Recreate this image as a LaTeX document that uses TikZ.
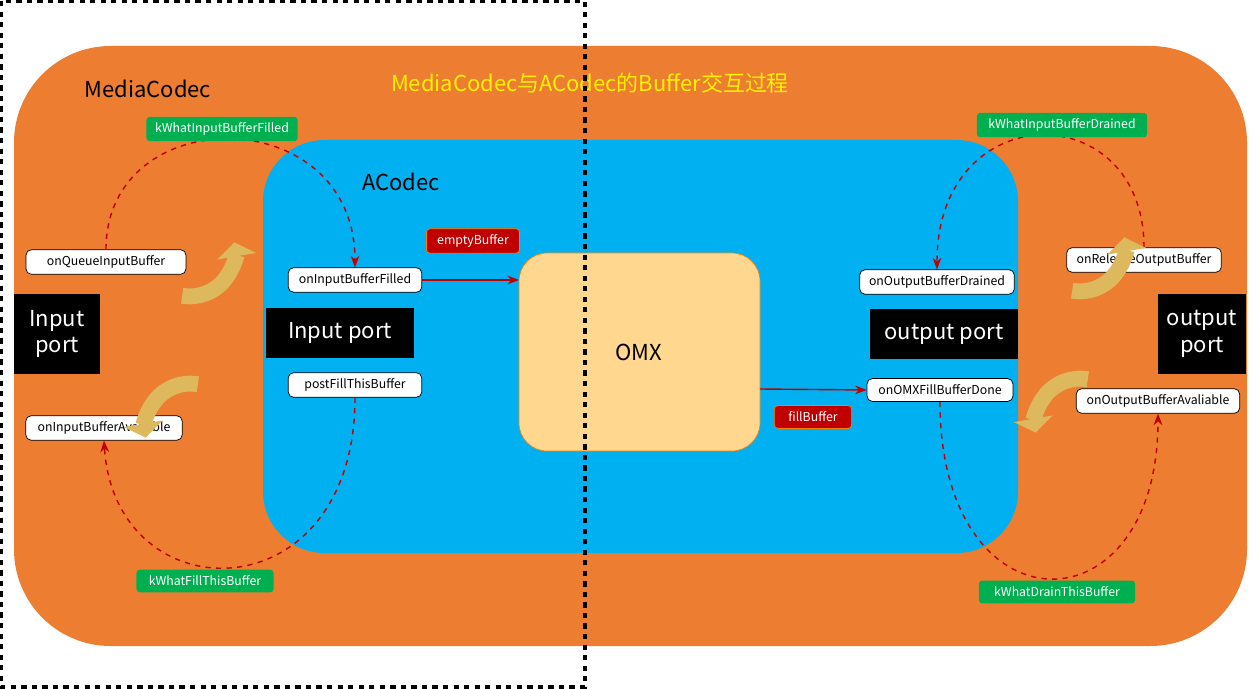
\documentclass[tikz,border=0pt]{standalone}
\usepackage{fontspec}
\setmainfont{Noto Sans CJK SC}
\usepackage{xcolor}
\usetikzlibrary{arrows.meta}
\definecolor{codecorange}{HTML}{ED7D31}
\definecolor{codecblue}{HTML}{00B0F0}
\definecolor{omxfill}{HTML}{FFD78F}
\definecolor{msggreen}{HTML}{00B050}
\definecolor{callred}{HTML}{C00000}
\definecolor{loopgold}{HTML}{DDB85C}
\tikzset{callbox/.style={draw=black,fill=white,rounded corners=3pt,minimum height=13pt,inner xsep=5pt,font=\fontsize{7}{8}\selectfont}}
\tikzset{msgbox/.style={fill=msggreen,text=white,rounded corners=2pt,minimum height=13pt,inner xsep=5pt,font=\fontsize{7}{8}\selectfont}}
\tikzset{omxbox/.style={fill=callred,draw=orange,text=white,rounded corners=2pt,minimum height=13pt,inner xsep=5pt,font=\fontsize{7}{8}\selectfont}}
\tikzset{portbox/.style={fill=black,text=white,align=center,font=\fontsize{12.5}{15}\selectfont}}
\tikzset{flow/.style={dashed,thick,callred,-{Stealth}}}
\tikzset{loop/.style={line width=9pt,loopgold,-{Triangle[length=8pt,width=22pt]}}}

\begin{document}
\begin{tikzpicture}[x=0.02cm,y=-0.02cm]
            \useasboundingbox (0,0) rectangle (1259,689);
            % the containers
            \fill[codecorange,rounded corners=55pt] (14,46) rectangle (1247,646);
            \fill[codecblue,rounded corners=35pt] (263,140) rectangle (1018,553);
            \draw[orange,fill=omxfill,rounded corners=16pt] (519,253) rectangle (760,451);
            \node[font=\fontsize{12.5}{15}\selectfont] (omx) at (639,352) {OMX};
            \node[font=\fontsize{12.5}{15}\selectfont] (mc) at (148,89) {MediaCodec};
            \node[font=\fontsize{12.5}{15}\selectfont] (ac) at (401,182) {ACodec};
            \node[yellow,font=\fontsize{12.5}{15}\selectfont] (title) at (590,83) {MediaCodec与ACodec的Buffer交互过程};

            % ports
            \node[portbox,minimum width=49pt,minimum height=46pt] (inport) at (57,334) {Input\\port};
            \node[portbox,minimum width=84pt,minimum height=29pt] (acin) at (340,333) {Input port};
            \node[portbox,minimum width=84pt,minimum height=29pt] (acout) at (944,334) {output port};
            \node[portbox,minimum width=50pt,minimum height=46pt] (outport) at (1202,334) {output\\port};

            % callbacks
            \node[callbox,minimum width=91pt] (queuein) at (106,262) {onQueueInputBuffer};
            \node[callbox,minimum width=89pt] (inavail) at (104,428) {onInputBufferAvaliable};
            \node[callbox,minimum width=76pt] (infilled) at (355,280) {onInputBufferFilled};
            \node[callbox,minimum width=76pt] (postfill) at (355,385) {postFillThisBuffer};
            \node[callbox,minimum width=88pt] (drained) at (937,282) {onOutputBufferDrained};
            \node[callbox,minimum width=83pt] (filldone) at (940,390) {onOMXFillBufferDone};
            \node[callbox,minimum width=88pt] (release) at (1144,260) {onReleaseOutputBuffer};
            \node[callbox,minimum width=93pt] (outavail) at (1158,401) {onOutputBufferAvaliable};

            % the buffer loops
            \draw[flow] (queuein.north) .. controls (106,100) and (355,100) .. (infilled.north);
            \draw[flow] (postfill.south) .. controls (355,616) and (115,616) .. (inavail.south);
            \draw[flow] (release.north) .. controls (1144,95) and (937,95) .. (drained.north);
            \draw[flow] (filldone.south) .. controls (940,635) and (1158,635) .. (outavail.south);
            \draw[thick,callred,-{Stealth}] (infilled.east) -- (519,280);
            \draw[thick,callred,-{Stealth}] (760,389) -- (filldone.west);

            % messages
            \node[msgbox,minimum width=86pt] (msgfilled) at (222,129) {kWhatInputBufferFilled};
            \node[msgbox,minimum width=78pt] (msgfill) at (205,581) {kWhatFillThisBuffer};
            \node[msgbox,minimum width=97pt] (msgdrained) at (1062,125) {kWhatInputBufferDrained};
            \node[msgbox,minimum width=89pt] (msgdrain) at (1057,592) {kWhatDrainThisBuffer};
            \node[omxbox,minimum width=53pt] (empty) at (473,241) {emptyBuffer};
            \node[omxbox,minimum width=44pt] (fillbuf) at (813,417) {fillBuffer};

            % circular arrows
            \foreach \cx/\cy in {190/340, 1080/335} {
              \draw[loop] (\cx,\cy) ++(80:45) arc[start angle=80,end angle=190,x radius=45,y radius=-46];
              \draw[loop] (\cx,\cy) ++(260:45) arc[start angle=260,end angle=370,x radius=45,y radius=-46];
            }

            % dashed frame
            \draw[line width=2.5pt,dashed] (1,1) rectangle (585,687);
        \end{tikzpicture}
\end{document}
